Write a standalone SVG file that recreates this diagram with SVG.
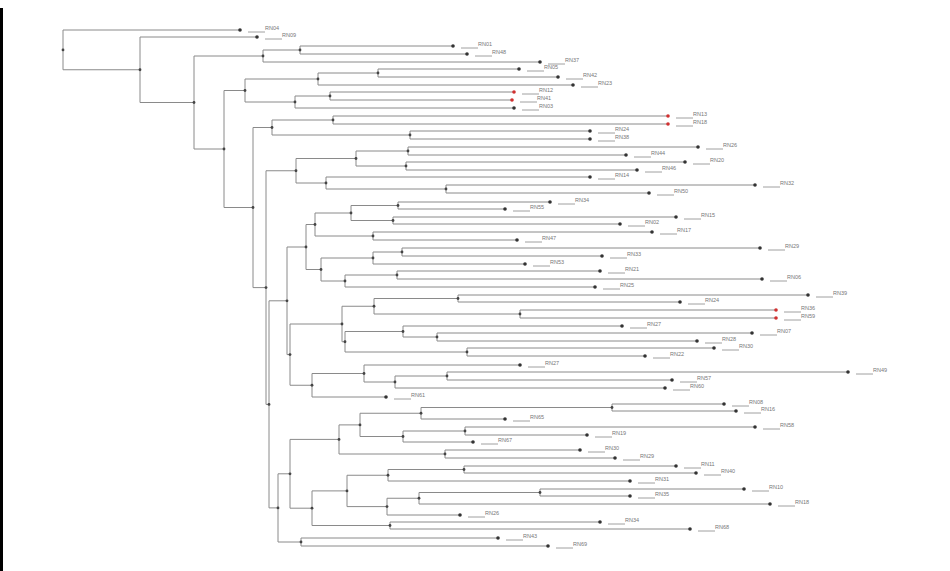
<svg xmlns="http://www.w3.org/2000/svg" width="950" height="571" viewBox="0 0 950 571">
<style>
.c{fill:none;stroke:#8a8a8a;stroke-width:1}
.leaf circle{fill:#333}
.leaf circle.r{fill:#d03030}
.leaf path{stroke:#888;stroke-width:0.8;fill:none}
.leaf text{font-family:"Liberation Sans",Arial,sans-serif;font-size:5.5px;fill:#777}
.n{fill:#444}
</style>
<rect width="950" height="571" fill="#fff"/>
<rect x="0" y="8" width="3" height="563" fill="#000"/>
<g id="connectors" class="c">
<path d="M63,30V69.75M63,30H240M63,69.75H140"/>
<path d="M140,37V102.5M140,37H257M140,102.5H194"/>
<path d="M194,56V149M194,56H263M194,149H224"/>
<path d="M263,50V62M263,50H300M263,62H540"/>
<path d="M300,46V54M300,46H453M300,54H467"/>
<path d="M224,90.5V207.5M224,90.5H245M224,207.5H253"/>
<path d="M245,79V102M245,79H318M245,102H295"/>
<path d="M318,73V85M318,73H378M318,85H573"/>
<path d="M378,69V77M378,69H519M378,77H558"/>
<path d="M295,96V108M295,96H330M295,108H514"/>
<path d="M330,92V100M330,92H514M330,100H512"/>
<path d="M253,127.5V287.6M253,127.5H272M253,287.6H266"/>
<path d="M272,120V135M272,120H333M272,135H410"/>
<path d="M333,116V124M333,116H668M333,124H668"/>
<path d="M410,131V139M410,131H590M410,139H590"/>
<path d="M266,170.75V404.4M266,170.75H296M266,404.4H269"/>
<path d="M296,158.5V183M296,158.5H356M296,183H326"/>
<path d="M356,151V166M356,151H408M356,166H406"/>
<path d="M408,147V155M408,147H698M408,155H626"/>
<path d="M406,162V170M406,162H685M406,170H637"/>
<path d="M326,177V189M326,177H590M326,189H446"/>
<path d="M446,185V193M446,185H755M446,193H649"/>
<path d="M269,300.8V507.9M269,300.8H287M269,507.9H278"/>
<path d="M287,247V354.6M287,247H306M287,354.6H290"/>
<path d="M306,224.5V269.5M306,224.5H315M306,269.5H321"/>
<path d="M315,213V236M315,213H351M315,236H373"/>
<path d="M351,205.5V220.5M351,205.5H398M351,220.5H393"/>
<path d="M398,202V209M398,202H550M398,209H505"/>
<path d="M393,217V224M393,217H676M393,224H620"/>
<path d="M373,232V240M373,232H652M373,240H517"/>
<path d="M321,258V281M321,258H373M321,281H345"/>
<path d="M373,252V264M373,252H402M373,264H525"/>
<path d="M402,248V256M402,248H760M402,256H602"/>
<path d="M345,275V287M345,275H397M345,287H595"/>
<path d="M397,271V279M397,271H600M397,279H762"/>
<path d="M290,324V385.25M290,324H342M290,385.25H312"/>
<path d="M342,306.25V341.75M342,306.25H374M342,341.75H345"/>
<path d="M374,298.5V314M374,298.5H458M374,314H520"/>
<path d="M458,295V302M458,295H808M458,302H680"/>
<path d="M520,310V318M520,310H776M520,318H776"/>
<path d="M345,331.5V352M345,331.5H403M345,352H467"/>
<path d="M403,326V337M403,326H622M403,337H437"/>
<path d="M437,333V341M437,333H752M437,341H697"/>
<path d="M467,348V356M467,348H714M467,356H645"/>
<path d="M312,373.5V397M312,373.5H364M312,397H386"/>
<path d="M364,365V382M364,365H520M364,382H395"/>
<path d="M395,376V388M395,376H447M395,388H665"/>
<path d="M447,372V380M447,372H848M447,380H672"/>
<path d="M278,473.8V542M278,473.8H290M278,542H301"/>
<path d="M290,439.4V508.2M290,439.4H339M290,508.2H312"/>
<path d="M339,424.9V454M339,424.9H360M339,454H445"/>
<path d="M360,413.25V436.5M360,413.25H421M360,436.5H403"/>
<path d="M421,407.5V419M421,407.5H612M421,419H505"/>
<path d="M612,404V411M612,404H724M612,411H736"/>
<path d="M403,431V442M403,431H465M403,442H473"/>
<path d="M465,427V435M465,427H755M465,435H587"/>
<path d="M445,450V458M445,450H580M445,458H615"/>
<path d="M312,490.9V525.5M312,490.9H347M312,525.5H390"/>
<path d="M347,475.25V506.6M347,475.25H388M347,506.6H387"/>
<path d="M388,469.5V481M388,469.5H464M388,481H630"/>
<path d="M464,466V473M464,466H676M464,473H696"/>
<path d="M387,498.25V515M387,498.25H419M387,515H460"/>
<path d="M419,492.5V504M419,492.5H540M419,504H770"/>
<path d="M540,489V496M540,489H744M540,496H630"/>
<path d="M390,522V529M390,522H600M390,529H690"/>
<path d="M301,538V546M301,538H498M301,546H548"/>
</g>
<g id="internal-nodes" class="n">
<circle cx="63" cy="49.9" r="1.4"/><circle cx="140" cy="69.75" r="1.4"/><circle cx="194" cy="102.5" r="1.4"/><circle cx="263" cy="56" r="1.4"/><circle cx="300" cy="50" r="1.4"/><circle cx="224" cy="149" r="1.4"/><circle cx="245" cy="90.5" r="1.4"/><circle cx="318" cy="79" r="1.4"/><circle cx="378" cy="73" r="1.4"/><circle cx="295" cy="102" r="1.4"/><circle cx="330" cy="96" r="1.4"/><circle cx="253" cy="207.5" r="1.4"/><circle cx="272" cy="127.5" r="1.4"/><circle cx="333" cy="120" r="1.4"/><circle cx="410" cy="135" r="1.4"/><circle cx="266" cy="287.6" r="1.4"/><circle cx="296" cy="170.75" r="1.4"/><circle cx="356" cy="158.5" r="1.4"/><circle cx="408" cy="151" r="1.4"/><circle cx="406" cy="166" r="1.4"/><circle cx="326" cy="183" r="1.4"/><circle cx="446" cy="189" r="1.4"/><circle cx="269" cy="404.4" r="1.4"/><circle cx="287" cy="300.8" r="1.4"/><circle cx="306" cy="247" r="1.4"/><circle cx="315" cy="224.5" r="1.4"/><circle cx="351" cy="213" r="1.4"/><circle cx="398" cy="205.5" r="1.4"/><circle cx="393" cy="220.5" r="1.4"/><circle cx="373" cy="236" r="1.4"/><circle cx="321" cy="269.5" r="1.4"/><circle cx="373" cy="258" r="1.4"/><circle cx="402" cy="252" r="1.4"/><circle cx="345" cy="281" r="1.4"/><circle cx="397" cy="275" r="1.4"/><circle cx="290" cy="354.6" r="1.4"/><circle cx="342" cy="324" r="1.4"/><circle cx="374" cy="306.25" r="1.4"/><circle cx="458" cy="298.5" r="1.4"/><circle cx="520" cy="314" r="1.4"/><circle cx="345" cy="341.75" r="1.4"/><circle cx="403" cy="331.5" r="1.4"/><circle cx="437" cy="337" r="1.4"/><circle cx="467" cy="352" r="1.4"/><circle cx="312" cy="385.25" r="1.4"/><circle cx="364" cy="373.5" r="1.4"/><circle cx="395" cy="382" r="1.4"/><circle cx="447" cy="376" r="1.4"/><circle cx="278" cy="507.9" r="1.4"/><circle cx="290" cy="473.8" r="1.4"/><circle cx="339" cy="439.4" r="1.4"/><circle cx="360" cy="424.9" r="1.4"/><circle cx="421" cy="413.25" r="1.4"/><circle cx="612" cy="407.5" r="1.4"/><circle cx="403" cy="436.5" r="1.4"/><circle cx="465" cy="431" r="1.4"/><circle cx="445" cy="454" r="1.4"/><circle cx="312" cy="508.2" r="1.4"/><circle cx="347" cy="490.9" r="1.4"/><circle cx="388" cy="475.25" r="1.4"/><circle cx="464" cy="469.5" r="1.4"/><circle cx="387" cy="506.6" r="1.4"/><circle cx="419" cy="498.25" r="1.4"/><circle cx="540" cy="492.5" r="1.4"/><circle cx="390" cy="525.5" r="1.4"/><circle cx="301" cy="542" r="1.4"/>
</g>
<g id="l1" class="leaf"><circle cx="240" cy="30" r="1.8"/><path d="M248,32h17"/><text x="265" y="30">RN04</text></g>
<g id="l2" class="leaf"><circle cx="257" cy="37" r="1.8"/><path d="M265,39h17"/><text x="282" y="37">RN09</text></g>
<g id="l3" class="leaf"><circle cx="453" cy="46" r="1.8"/><path d="M461,48h17"/><text x="478" y="46">RN01</text></g>
<g id="l4" class="leaf"><circle cx="467" cy="54" r="1.8"/><path d="M475,56h17"/><text x="492" y="54">RN48</text></g>
<g id="l5" class="leaf"><circle cx="540" cy="62" r="1.8"/><path d="M548,64h17"/><text x="565" y="62">RN37</text></g>
<g id="l6" class="leaf"><circle cx="519" cy="69" r="1.8"/><path d="M527,71h17"/><text x="544" y="69">RN05</text></g>
<g id="l7" class="leaf"><circle cx="558" cy="77" r="1.8"/><path d="M566,79h17"/><text x="583" y="77">RN42</text></g>
<g id="l8" class="leaf"><circle cx="573" cy="85" r="1.8"/><path d="M581,87h17"/><text x="598" y="85">RN23</text></g>
<g id="l9" class="leaf"><circle class="r" cx="514" cy="92" r="1.8"/><path d="M522,94h17"/><text x="539" y="92">RN12</text></g>
<g id="l10" class="leaf"><circle class="r" cx="512" cy="100" r="1.8"/><path d="M520,102h17"/><text x="537" y="100">RN41</text></g>
<g id="l11" class="leaf"><circle cx="514" cy="108" r="1.8"/><path d="M522,110h17"/><text x="539" y="108">RN03</text></g>
<g id="l12" class="leaf"><circle class="r" cx="668" cy="116" r="1.8"/><path d="M676,118h17"/><text x="693" y="116">RN13</text></g>
<g id="l13" class="leaf"><circle class="r" cx="668" cy="124" r="1.8"/><path d="M676,126h17"/><text x="693" y="124">RN18</text></g>
<g id="l14" class="leaf"><circle cx="590" cy="131" r="1.8"/><path d="M598,133h17"/><text x="615" y="131">RN24</text></g>
<g id="l15" class="leaf"><circle cx="590" cy="139" r="1.8"/><path d="M598,141h17"/><text x="615" y="139">RN38</text></g>
<g id="l16" class="leaf"><circle cx="698" cy="147" r="1.8"/><path d="M706,149h17"/><text x="723" y="147">RN26</text></g>
<g id="l17" class="leaf"><circle cx="626" cy="155" r="1.8"/><path d="M634,157h17"/><text x="651" y="155">RN44</text></g>
<g id="l18" class="leaf"><circle cx="685" cy="162" r="1.8"/><path d="M693,164h17"/><text x="710" y="162">RN20</text></g>
<g id="l19" class="leaf"><circle cx="637" cy="170" r="1.8"/><path d="M645,172h17"/><text x="662" y="170">RN46</text></g>
<g id="l20" class="leaf"><circle cx="590" cy="177" r="1.8"/><path d="M598,179h17"/><text x="615" y="177">RN14</text></g>
<g id="l21" class="leaf"><circle cx="755" cy="185" r="1.8"/><path d="M763,187h17"/><text x="780" y="185">RN32</text></g>
<g id="l22" class="leaf"><circle cx="649" cy="193" r="1.8"/><path d="M657,195h17"/><text x="674" y="193">RN50</text></g>
<g id="l23" class="leaf"><circle cx="550" cy="202" r="1.8"/><path d="M558,204h17"/><text x="575" y="202">RN34</text></g>
<g id="l24" class="leaf"><circle cx="505" cy="209" r="1.8"/><path d="M513,211h17"/><text x="530" y="209">RN55</text></g>
<g id="l25" class="leaf"><circle cx="676" cy="217" r="1.8"/><path d="M684,219h17"/><text x="701" y="217">RN15</text></g>
<g id="l26" class="leaf"><circle cx="620" cy="224" r="1.8"/><path d="M628,226h17"/><text x="645" y="224">RN02</text></g>
<g id="l27" class="leaf"><circle cx="652" cy="232" r="1.8"/><path d="M660,234h17"/><text x="677" y="232">RN17</text></g>
<g id="l28" class="leaf"><circle cx="517" cy="240" r="1.8"/><path d="M525,242h17"/><text x="542" y="240">RN47</text></g>
<g id="l29" class="leaf"><circle cx="760" cy="248" r="1.8"/><path d="M768,250h17"/><text x="785" y="248">RN29</text></g>
<g id="l30" class="leaf"><circle cx="602" cy="256" r="1.8"/><path d="M610,258h17"/><text x="627" y="256">RN33</text></g>
<g id="l31" class="leaf"><circle cx="525" cy="264" r="1.8"/><path d="M533,266h17"/><text x="550" y="264">RN53</text></g>
<g id="l32" class="leaf"><circle cx="600" cy="271" r="1.8"/><path d="M608,273h17"/><text x="625" y="271">RN21</text></g>
<g id="l33" class="leaf"><circle cx="762" cy="279" r="1.8"/><path d="M770,281h17"/><text x="787" y="279">RN06</text></g>
<g id="l34" class="leaf"><circle cx="595" cy="287" r="1.8"/><path d="M603,289h17"/><text x="620" y="287">RN25</text></g>
<g id="l35" class="leaf"><circle cx="808" cy="295" r="1.8"/><path d="M816,297h17"/><text x="833" y="295">RN39</text></g>
<g id="l36" class="leaf"><circle cx="680" cy="302" r="1.8"/><path d="M688,304h17"/><text x="705" y="302">RN24</text></g>
<g id="l37" class="leaf"><circle class="r" cx="776" cy="310" r="1.8"/><path d="M784,312h17"/><text x="801" y="310">RN36</text></g>
<g id="l38" class="leaf"><circle class="r" cx="776" cy="318" r="1.8"/><path d="M784,320h17"/><text x="801" y="318">RN59</text></g>
<g id="l39" class="leaf"><circle cx="622" cy="326" r="1.8"/><path d="M630,328h17"/><text x="647" y="326">RN27</text></g>
<g id="l40" class="leaf"><circle cx="752" cy="333" r="1.8"/><path d="M760,335h17"/><text x="777" y="333">RN07</text></g>
<g id="l41" class="leaf"><circle cx="697" cy="341" r="1.8"/><path d="M705,343h17"/><text x="722" y="341">RN28</text></g>
<g id="l42" class="leaf"><circle cx="714" cy="348" r="1.8"/><path d="M722,350h17"/><text x="739" y="348">RN30</text></g>
<g id="l43" class="leaf"><circle cx="645" cy="356" r="1.8"/><path d="M653,358h17"/><text x="670" y="356">RN22</text></g>
<g id="l44" class="leaf"><circle cx="520" cy="365" r="1.8"/><path d="M528,367h17"/><text x="545" y="365">RN27</text></g>
<g id="l45" class="leaf"><circle cx="848" cy="372" r="1.8"/><path d="M856,374h17"/><text x="873" y="372">RN49</text></g>
<g id="l46" class="leaf"><circle cx="672" cy="380" r="1.8"/><path d="M680,382h17"/><text x="697" y="380">RN57</text></g>
<g id="l47" class="leaf"><circle cx="665" cy="388" r="1.8"/><path d="M673,390h17"/><text x="690" y="388">RN60</text></g>
<g id="l48" class="leaf"><circle cx="386" cy="397" r="1.8"/><path d="M394,399h17"/><text x="411" y="397">RN61</text></g>
<g id="l49" class="leaf"><circle cx="724" cy="404" r="1.8"/><path d="M732,406h17"/><text x="749" y="404">RN08</text></g>
<g id="l50" class="leaf"><circle cx="736" cy="411" r="1.8"/><path d="M744,413h17"/><text x="761" y="411">RN16</text></g>
<g id="l51" class="leaf"><circle cx="505" cy="419" r="1.8"/><path d="M513,421h17"/><text x="530" y="419">RN65</text></g>
<g id="l52" class="leaf"><circle cx="755" cy="427" r="1.8"/><path d="M763,429h17"/><text x="780" y="427">RN58</text></g>
<g id="l53" class="leaf"><circle cx="587" cy="435" r="1.8"/><path d="M595,437h17"/><text x="612" y="435">RN19</text></g>
<g id="l54" class="leaf"><circle cx="473" cy="442" r="1.8"/><path d="M481,444h17"/><text x="498" y="442">RN67</text></g>
<g id="l55" class="leaf"><circle cx="580" cy="450" r="1.8"/><path d="M588,452h17"/><text x="605" y="450">RN30</text></g>
<g id="l56" class="leaf"><circle cx="615" cy="458" r="1.8"/><path d="M623,460h17"/><text x="640" y="458">RN29</text></g>
<g id="l57" class="leaf"><circle cx="676" cy="466" r="1.8"/><path d="M684,468h17"/><text x="701" y="466">RN11</text></g>
<g id="l58" class="leaf"><circle cx="696" cy="473" r="1.8"/><path d="M704,475h17"/><text x="721" y="473">RN40</text></g>
<g id="l59" class="leaf"><circle cx="630" cy="481" r="1.8"/><path d="M638,483h17"/><text x="655" y="481">RN31</text></g>
<g id="l60" class="leaf"><circle cx="744" cy="489" r="1.8"/><path d="M752,491h17"/><text x="769" y="489">RN10</text></g>
<g id="l61" class="leaf"><circle cx="630" cy="496" r="1.8"/><path d="M638,498h17"/><text x="655" y="496">RN35</text></g>
<g id="l62" class="leaf"><circle cx="770" cy="504" r="1.8"/><path d="M778,506h17"/><text x="795" y="504">RN18</text></g>
<g id="l63" class="leaf"><circle cx="460" cy="515" r="1.8"/><path d="M468,517h17"/><text x="485" y="515">RN26</text></g>
<g id="l64" class="leaf"><circle cx="600" cy="522" r="1.8"/><path d="M608,524h17"/><text x="625" y="522">RN34</text></g>
<g id="l65" class="leaf"><circle cx="690" cy="529" r="1.8"/><path d="M698,531h17"/><text x="715" y="529">RN68</text></g>
<g id="l66" class="leaf"><circle cx="498" cy="538" r="1.8"/><path d="M506,540h17"/><text x="523" y="538">RN43</text></g>
<g id="l67" class="leaf"><circle cx="548" cy="546" r="1.8"/><path d="M556,548h17"/><text x="573" y="546">RN69</text></g>
</svg>
